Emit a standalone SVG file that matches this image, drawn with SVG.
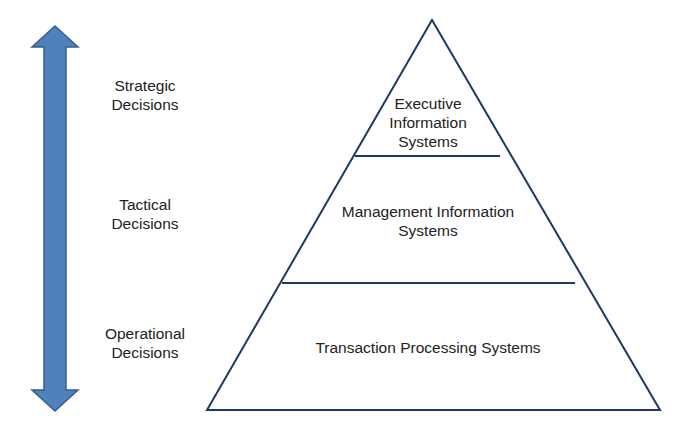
<svg xmlns="http://www.w3.org/2000/svg" width="683" height="438" viewBox="0 0 683 438">
<style>
.t{font-family:"Liberation Sans",Arial,sans-serif;font-size:15.5px;fill:#222;text-anchor:middle}
.l{stroke:#1f3864;stroke-width:2;fill:none}
</style>
<rect width="683" height="438" fill="#fff"/>
<g id="arrow"><path d="M55,26 L78,47 L66,47 L66,390 L78,390 L55,411 L32,390 L44,390 L44,47 L32,47 Z" fill="#4f81bd" stroke="#385d8a" stroke-width="1.5"/></g>
<g id="pyramid"><path class="l" d="M432,20 L660,410 L207,410 Z"/></g>
<g id="connectors"><line class="l" x1="355" y1="156" x2="500" y2="156"/><line class="l" x1="282" y1="283" x2="575" y2="283"/></g>
<g id="eis"><text class="t" x="428" y="109">Executive</text><text class="t" x="428" y="128">Information</text><text class="t" x="428" y="147">Systems</text></g>
<g id="mis"><text class="t" x="428" y="217">Management Information</text><text class="t" x="428" y="236">Systems</text></g>
<g id="tps"><text class="t" x="428" y="353">Transaction Processing Systems</text></g>
<g id="strategic"><text class="t" x="145" y="91">Strategic</text><text class="t" x="145" y="110">Decisions</text></g>
<g id="tactical"><text class="t" x="145" y="210">Tactical</text><text class="t" x="145" y="229">Decisions</text></g>
<g id="operational"><text class="t" x="145" y="339">Operational</text><text class="t" x="145" y="358">Decisions</text></g>
</svg>
